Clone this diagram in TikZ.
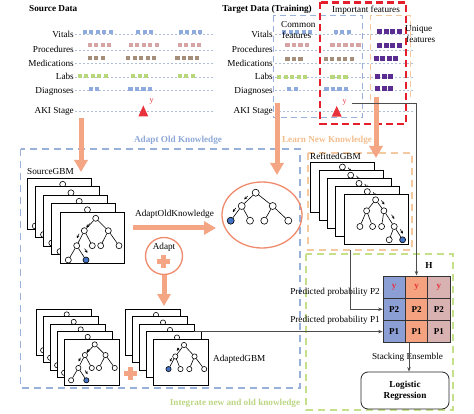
\documentclass[tikz,border=0pt]{standalone}
\usepackage{fontspec}
\setmainfont{Liberation Serif}
\usetikzlibrary{arrows.meta,shapes.geometric,calc}
\definecolor{sqblue}{HTML}{8FAADC}
\definecolor{sqpink}{HTML}{D6A4A4}
\definecolor{sqbrown}{HTML}{A68F7A}
\definecolor{sqgreen}{HTML}{B7D77A}
\definecolor{sqpurple}{HTML}{5C2D91}
\definecolor{dashc}{HTML}{B0BFD8}
\definecolor{boxblue}{HTML}{98B0DA}
\definecolor{boxtan}{HTML}{F4C99F}
\definecolor{boxgreen}{HTML}{C6DF8A}
\definecolor{ttlblue}{HTML}{8EA8D8}
\definecolor{ttltan}{HTML}{F2BE8E}
\definecolor{ttlgreen}{HTML}{BCD683}
\definecolor{salmon}{HTML}{F4A583}
\definecolor{ellc}{HTML}{EF8B6C}
\definecolor{redbox}{HTML}{E41E2B}
\definecolor{tri}{HTML}{E8333C}
\definecolor{nodeblue}{HTML}{4472C4}
\definecolor{cblue}{HTML}{8C9FD4}
\definecolor{corange}{HTML}{F4A27F}
\definecolor{cpink}{HTML}{D8B1B1}
\definecolor{conngray}{HTML}{4D4D4D}

\newcommand\sqs[5]{\foreach \k in {1,...,#4}{\fill[#1] ({#2+(\k-1)*6.5},{#3-#5/2}) rectangle ++(#5,#5);}}

\tikzset{
 txt/.style={font=\fontsize{9.2}{10.6}\selectfont, inner sep=0pt},
 btxt/.style={font=\fontsize{9.2}{10.6}\selectfont\bfseries, inner sep=0pt},
 flbl/.style={txt, anchor=base east},
 fline/.style={dashc, dash pattern=on 2.2pt off 1.8pt, line width=0.6pt},
 frame/.style={draw=black, fill=white, line width=0.8pt, anchor=north west, inner sep=0pt, outer sep=0pt},
 bigarrow/.style={salmon, line width=5pt, -{Triangle[width=13pt,length=12pt]}},
 link/.style={conngray, line width=0.8pt, -{Stealth[length=4.5pt,width=3.5pt]}},
 tnb/.style={circle, draw, fill=white, inner sep=0pt, line width=0.6pt},
 tarr/.style={-{Stealth[length=2.8pt,width=2.8pt]}, line width=0.6pt},
 tedge/.style={line width=0.6pt},
 cell/.style={draw=black!80, line width=0.7pt, minimum width=22.3pt, minimum height=22.3pt, inner sep=0pt, font=\fontsize{9}{10}\selectfont\bfseries},
 secbox/.style={dash pattern=on 7pt off 5pt, line width=1.2pt},
 topbox/.style={dash pattern=on 6pt off 4pt, line width=1pt},
 pics/bigtree/.style={code={
   \node[tnb, minimum size=#1] (-r) at (35.7,6.3) {};
   \node[tnb, minimum size=#1] (-a) at (24.3,18.7) {};
   \node[tnb, minimum size=#1] (-b) at (48.3,18.7) {};
   \node[tnb, minimum size=#1] (-c) at (16.7,33.7) {};
   \node[tnb, minimum size=#1] (-d) at (32.3,33.7) {};
   \node[tnb, minimum size=#1] (-e) at (40.7,33.7) {};
   \node[tnb, minimum size=#1] (-f) at (59,33.7) {};
   \node[tnb, minimum size=#1] (-g) at (8.3,48) {};
   \node[tnb, minimum size=#1, fill=nodeblue] (-h) at (26,48) {};
   \draw[tedge] (-r)--(-a) (-r)--(-b) (-a)--(-c) (-a)--(-d) (-b)--(-e) (-b)--(-f) (-c)--(-g) (-c)--(-h);
   \draw[tarr] (29.7,11.7) -- (26.3,15.3);
   \draw[tarr] (19.1,21.8) -- (16.9,26.2);
   \draw[tarr] (24.6,36.6) -- (27.4,40.8);
 }},
 pics/refittree/.style={code={
   \node[tnb, minimum size=#1] (-r) at (31.7,5) {};
   \node[tnb, minimum size=#1] (-a) at (22.7,16) {};
   \node[tnb, minimum size=#1] (-b) at (40,16) {};
   \node[tnb, minimum size=#1] (-c) at (16,31.7) {};
   \node[tnb, minimum size=#1] (-d) at (28.7,31.7) {};
   \node[tnb, minimum size=#1] (-e) at (37.7,31.7) {};
   \node[tnb, minimum size=#1] (-f) at (50.3,31.7) {};
   \node[tnb, minimum size=#1] (-g) at (45.3,45) {};
   \node[tnb, minimum size=#1, fill=nodeblue] (-h) at (58.7,45) {};
   \draw[tedge] (-r)--(-a) (-r)--(-b) (-a)--(-c) (-a)--(-d) (-b)--(-e) (-b)--(-f) (-f)--(-g) (-f)--(-h);
   \draw[tarr] (37.5,5.7) -- (40.5,9.7);
   \draw[tarr] (47.6,19.9) -- (50.4,24.1);
   \draw[tarr] (56.4,34.6) -- (59,38.8);
 }},
 pics/smalltree/.style={code={
   \node[tnb, minimum size=#1] (-r) at (0,0) {};
   \node[tnb, minimum size=#1] (-a) at (-14,13.3) {};
   \node[tnb, minimum size=#1] (-b) at (17,13.3) {};
   \node[tnb, minimum size=#1, fill=nodeblue] (-c) at (-25,28) {};
   \node[tnb, minimum size=#1] (-d) at (-5.7,28) {};
   \node[tnb, minimum size=#1] (-e) at (8.6,28) {};
   \node[tnb, minimum size=#1] (-f) at (32.6,28) {};
   \draw[tedge] (-r)--(-a) (-r)--(-b) (-a)--(-c) (-a)--(-d) (-b)--(-e) (-b)--(-f);
   \draw[tarr] (-7.9,3.3) -- (-11.5,6.7);
   \draw[tarr] (-19.9,15.3) -- (-22.9,19.3);
 }},
}

\begin{document}
\begin{tikzpicture}[x=1pt,y=-1pt]
\useasboundingbox (0,0) rectangle (474,414);

% headers
\node[btxt, anchor=west] (srchd) at (29,9) {Source Data};
\node[btxt, anchor=east] (tgthd) at (312,9) {Target Data (Training)};

% feature rows
\foreach \t/\yy [count=\n] in {Vitals/34.7, Procedures/50.3, Medications/63.4, Labs/77, Diagnoses/90.5, AKI Stage/111}{
  \node[flbl] (sl\n) at (74,\yy+2.7) {\t};
  \draw[fline] (75,\yy) -- (213,\yy);
  \node[flbl] (tl\n) at (273,\yy+2.7) {\t};
  \draw[fline] (275,\yy) -- (413,\yy);
}

% source squares
\sqs{sqblue}{82.7}{32}{5}{4.2}
\sqs{sqblue}{136}{32}{3}{4.2}
\sqs{sqblue}{178.7}{32}{4}{4.2}
\sqs{sqpink}{87.7}{45.3}{4}{4.2}
\sqs{sqpink}{128.7}{45.3}{5}{4.2}
\sqs{sqpink}{177.7}{45.3}{4}{4.2}
\sqs{sqbrown}{87.7}{58.3}{3}{4.2}
\sqs{sqbrown}{126}{58.3}{5}{4.2}
\sqs{sqbrown}{175.3}{58.3}{4}{4.2}
\sqs{sqgreen}{77.7}{76}{5}{4.2}
\sqs{sqgreen}{131}{76}{3}{4.2}
\sqs{sqgreen}{177.7}{76}{3}{4.2}
\sqs{sqblue}{88.7}{88.7}{2}{4.2}
\sqs{sqblue}{128.3}{88.7}{4}{4.2}

% target squares
\sqs{sqblue}{282}{32}{5}{4.2}
\sqs{sqblue}{333.7}{32}{3}{4.2}
\sqs{sqpurple}{377}{32}{4}{5}
\sqs{sqpink}{285.3}{45.3}{4}{4.2}
\sqs{sqpink}{330.3}{45.3}{5}{4.2}
\sqs{sqpurple}{377}{45.3}{4}{5}
\sqs{sqbrown}{285.3}{58.7}{3}{4.2}
\sqs{sqbrown}{323.7}{58.7}{5}{4.2}
\sqs{sqpurple}{373.7}{58.7}{4}{5}
\sqs{sqgreen}{277}{76.7}{5}{4.2}
\sqs{sqgreen}{330.3}{76.7}{3}{4.2}
\sqs{sqpurple}{375.3}{76.7}{3}{5}
\sqs{sqblue}{287}{88.7}{2}{4.2}
\sqs{sqblue}{324.3}{88.7}{4}{4.2}
\sqs{sqpurple}{375.3}{88.7}{3}{5}

% AKI triangles
\fill[tri] (138.3,116.5) -- (148.3,116.5) -- (143.3,105.5) -- cycle;
\node[txt, text=tri, font=\fontsize{8}{9}\selectfont] (sy) at (151.5,102) {y};
\fill[tri] (331.7,116.7) -- (341.7,116.7) -- (336.7,106) -- cycle;
\node[txt, text=tri, font=\fontsize{8}{9}\selectfont] (ty) at (344.5,103) {y};

% top feature boxes
\draw[boxblue, topbox] (273,15.7) rectangle (362,118);
\draw[boxtan, topbox] (370,100) -- (370,15.7) -- (410,15.7) -- (410,100);
\draw[redbox, line width=2.2pt, dash pattern=on 7pt off 4pt] (320,2.5) rectangle (406,124);
\node[txt] (impf) at (366,10.7) {Important features};
\node[txt, anchor=base west] (com1) at (281,28) {Common};
\node[txt, anchor=base west] (com2) at (282,38.5) {features};
\node[txt, anchor=base west] (uni1) at (405,31.5) {Unique};
\node[txt, anchor=base west] (uni2) at (406,42.5) {features};

% section boxes
\draw[boxblue, secbox] (20.7,149) rectangle (300,388);
\draw[boxtan, secbox] (308,153) rectangle (412,250);
\draw[boxgreen, secbox] (306,254) rectangle (453,410);
\node[btxt, text=ttlblue] (t1) at (178,140) {Adapt Old Knowledge};
\node[btxt, text=ttltan] (t2) at (327,140) {Learn New Knowledge};
\node[btxt, text=ttlgreen] (t3) at (235,403) {Integrate new and old knowledge};

% big arrows from data
\coordinate (sA0) at (81,118); \coordinate (sA1) at (81,172);
\coordinate (tA0) at (277,103); \coordinate (tA1) at (277,175);
\coordinate (uA0) at (376,97); \coordinate (uA1) at (376,158);
\draw[bigarrow] (sA0) -- (sA1);
\draw[bigarrow] (tA0) -- (tA1);
\draw[bigarrow] (uA0) -- (uA1);

% SourceGBM stack
\node[txt, anchor=west] (sgbm) at (27,172) {SourceGBM};
\foreach \i in {0,...,4}{
  \node[frame, minimum width=64pt, minimum height=51pt] (sf\i) at ({27+8.25*\i},{178+8.5*\i}) {};
  \pic (st\i) at (sf\i.north west) {bigtree=6pt};
}

% RefittedGBM stack
\node[txt, anchor=west] (rgbm) at (310,156) {RefittedGBM};
\foreach \i in {0,...,4}{
  \node[frame, minimum width=64pt, minimum height=50pt] (rf\i) at ({310.7+8.3*\i},{162+8.2*\i}) {};
  \pic (rt\i) at (rf\i.north west) {refittree=6pt};
}

% adapt old knowledge
\node[txt] (aok) at (174.5,214.5) {AdaptOldKnowledge};
\coordinate (aA0) at (133,228); \coordinate (aA1) at (216,228);
\draw[bigarrow] (aA0) -- (aA1);
\node[draw=ellc, line width=1.3pt, ellipse, minimum width=80pt, minimum height=66pt] (bigc) at (262,215) {};
\pic (ct) at (255.7,192.7) {smalltree=7pt};

% adapt circle
\node[draw=ellc, line width=1.3pt, circle, minimum size=37pt, inner sep=0pt] (adc) at (164,256) {};
\node[txt] (adt) at (164,247) {Adapt};
\coordinate (pl1) at (163.5,261.5);
\fill[salmon] (pl1) ++(-6.3,-2.3) rectangle ++(12.6,4.6);
\fill[salmon] (pl1) ++(-2.3,-6.3) rectangle ++(4.6,12.6);
\coordinate (adtip) at (164,306);
\draw[bigarrow] (adc.south) -- (adtip);

% Adapted stacks
\foreach \i in {0,...,4}{
  \node[frame, minimum width=55pt, minimum height=46pt] (al\i) at ({36+7*\i},{309+7.5*\i}) {};
  \pic[scale=0.86] (alt\i) at (al\i.north west) {bigtree=5.2pt};
}
\coordinate (pl2) at (130.3,373.3);
\fill[salmon] (pl2) ++(-6.5,-2.3) rectangle ++(13,4.6);
\fill[salmon] (pl2) ++(-2.3,-6.5) rectangle ++(4.6,13);
\foreach \i in {0,...,4}{
  \node[frame, minimum width=55pt, minimum height=46pt] (ar\i) at ({125+7*\i},{309+7.5*\i}) {};
  \coordinate (arc\i) at ({156+7*\i},{315+7.5*\i});
  \pic[xscale=0.62,yscale=0.86] (art\i) at (arc\i) {smalltree=5.2pt};
}
\node[txt, anchor=west] (agbm) at (213,359) {AdaptedGBM};

% H table
\node[btxt] (hl) at (429,265) {H};
\node[cell, fill=cblue, text=tri] (h11) at (394.2,287) {y};
\node[cell, fill=corange, text=tri] (h12) at (416.5,287) {y};
\node[cell, fill=cpink, text=tri] (h13) at (438.8,287) {y};
\node[cell, fill=cblue] (h21) at (394.2,309.3) {P2};
\node[cell, fill=corange] (h22) at (416.5,309.3) {P2};
\node[cell, fill=cpink] (h23) at (438.8,309.3) {P2};
\node[cell, fill=cblue] (h31) at (394.2,331.6) {P1};
\node[cell, fill=corange] (h32) at (416.5,331.6) {P1};
\node[cell, fill=cpink] (h33) at (438.8,331.6) {P1};

\node[txt] (pp2) at (335,292.7) {Predicted probability P2};
\node[txt] (pp1) at (335,320) {Predicted probability P1};
\node[txt] (se) at (407.5,357) {Stacking Ensemble};
\node[draw=black!85, rounded corners=7pt, line width=0.8pt, minimum width=88pt, minimum height=37pt, align=center, font=\fontsize{9.2}{10.7}\selectfont\bfseries, inner sep=0pt] (lr) at (405,390.5) {Logistic\\Regression};

% connectors
\coordinate (gs) at (352,103);
\draw[link] (gs) -| (h12.north);
\coordinate (p2s) at (350,250);
\draw[link] (p2s) |- (h21.west);
\draw[link] (ar2.east |- h31.west) -- (h31.west);
\coordinate (se0) at (409,342.8);
\draw[link] (se0) -- (se0 |- lr.north);
\end{tikzpicture}
\end{document}
